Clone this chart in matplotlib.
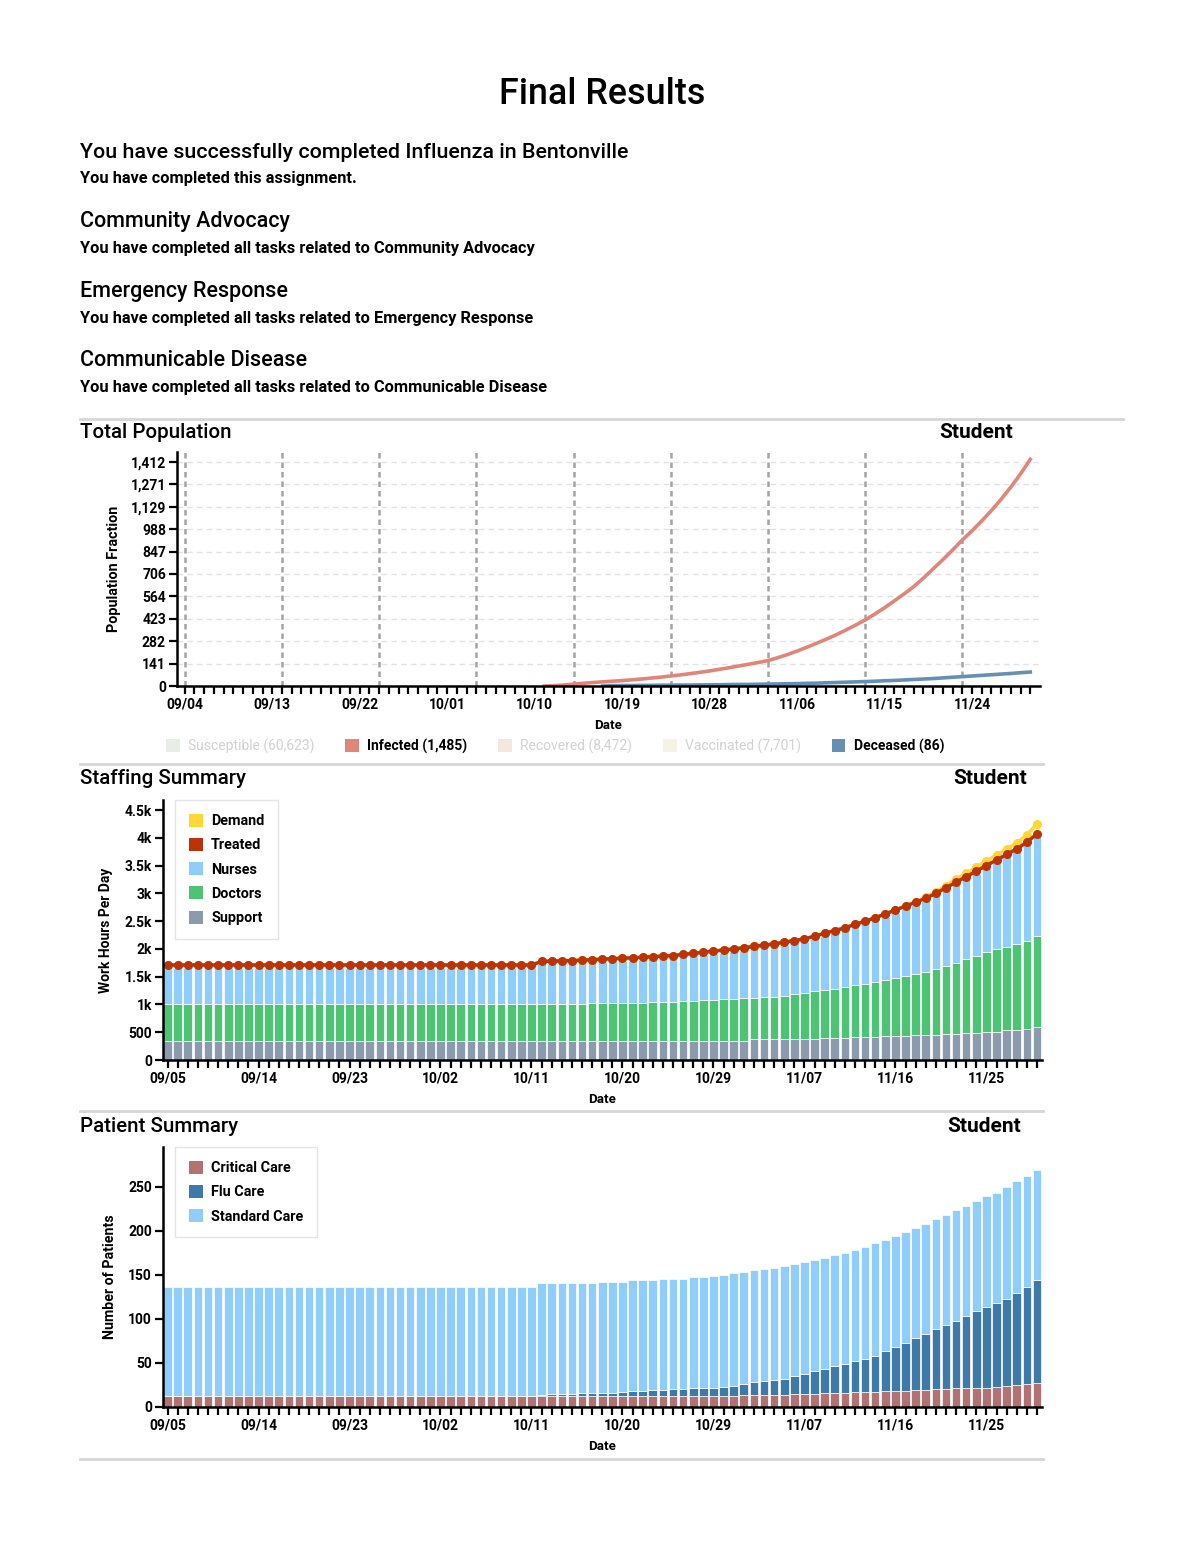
import matplotlib

matplotlib.use("Agg")

import matplotlib.pyplot as plt
import numpy as np
import pandas as pd
from matplotlib.lines import Line2D
from matplotlib.patches import Patch

plt.rcParams["font.family"] = ["Roboto", "DejaVu Sans"]

# ---------------------------------------------------------------------------
# dados
# ---------------------------------------------------------------------------

# Total Population: uma leitura por dia, de 09/04 a 11/30
pop_start = "2020-09-04"
infected = [
    0, 0, 0, 0, 0, 0, 0, 0, 0, 0,
    0, 0, 0, 0, 0, 0, 0, 0, 0, 0,
    0, 0, 0, 0, 0, 0, 0, 0, 0, 0,
    0, 0, 0, 0, 0, 0, 0, 0, 2, 6,
    12, 17, 22, 26, 30, 34, 39, 44, 50, 56,
    63, 70, 78, 86, 95, 105, 115, 126, 137, 148,
    160, 178, 198, 220, 244, 269, 295, 322, 352, 383,
    416, 453, 493, 536, 580, 626, 680, 738, 796, 857,
    920, 978, 1040, 1106, 1177, 1254, 1337, 1429,
]
deceased = [
    0, 0, 0, 0, 0, 0, 0, 0, 0, 0,
    0, 0, 0, 0, 0, 0, 0, 0, 0, 0,
    0, 0, 0, 0, 0, 0, 0, 0, 0, 0,
    0, 0, 0, 0, 0, 0, 0, 0, 0, 0,
    0, 0, 0, 0, 2, 3, 3, 4, 4, 5,
    5, 6, 6, 7, 7, 8, 9, 10, 10, 11,
    12, 13, 14, 15, 17, 18, 20, 22, 24, 26,
    28, 30, 33, 35, 38, 41, 44, 47, 51, 55,
    59, 63, 67, 71, 75, 79, 84, 88,
]
pop_yticks = [0, 141.2, 282.4, 423.6, 564.8, 706, 847.2, 988.4, 1129.6, 1270.8, 1412]
pop_ytick_labels = ["0", "141", "282", "423", "564", "706", "847", "988", "1,129", "1,271", "1,412"]
pop_legend = [
    ("Susceptible (60,623)", "#e8eee6", True),
    ("Infected (1,485)", "#df8579", False),
    ("Recovered (8,472)", "#f6e7de", True),
    ("Vaccinated (7,701)", "#f5f2e7", True),
    ("Deceased (86)", "#6690b3", False),
]

# Staffing / Patient: uma barra por dia, de 09/05 a 11/30
bar_start = "2020-09-05"
support = [
    345, 345, 345, 345, 345, 345, 345, 345, 345, 345,
    345, 345, 345, 345, 345, 345, 345, 345, 345, 345,
    345, 345, 345, 345, 345, 345, 345, 345, 345, 345,
    345, 345, 345, 345, 345, 345, 345, 345, 345, 345,
    345, 345, 345, 345, 345, 345, 345, 345, 345, 345,
    345, 345, 345, 345, 345, 345, 345, 345, 370, 370,
    370, 370, 385, 385, 385, 400, 400, 400, 420, 420,
    420, 435, 435, 435, 450, 450, 450, 475, 475, 495,
    495, 510, 510, 540, 540, 555, 590,
]
doctors = [
    655, 655, 655, 655, 655, 655, 655, 655, 655, 655,
    655, 655, 655, 655, 655, 655, 655, 655, 655, 655,
    655, 655, 655, 655, 655, 655, 655, 655, 655, 655,
    655, 655, 655, 655, 655, 655, 655, 665, 667, 670,
    670, 670, 673, 675, 675, 677, 683, 690, 695, 700,
    705, 713, 721, 730, 739, 747, 755, 765, 750, 760,
    770, 790, 800, 825, 850, 860, 885, 915, 925, 955,
    985, 1005, 1040, 1075, 1100, 1140, 1190, 1220, 1275, 1320,
    1385, 1435, 1480, 1500, 1550, 1595, 1650,
]
nurses = [
    660, 660, 660, 660, 660, 660, 660, 660, 660, 660,
    660, 660, 660, 660, 660, 660, 660, 660, 660, 660,
    660, 660, 660, 660, 660, 660, 660, 660, 660, 660,
    660, 660, 660, 660, 660, 660, 660, 715, 718, 720,
    725, 730, 737, 745, 755, 758, 762, 765, 770, 775,
    780, 792, 804, 815, 826, 838, 850, 860, 875, 885,
    900, 910, 915, 920, 945, 970, 995, 1015, 1045, 1075,
    1105, 1140, 1175, 1210, 1240, 1270, 1310, 1355, 1400, 1435,
    1470, 1505, 1560, 1610, 1660, 1720, 1780,
]
treated = [
    1710, 1710, 1710, 1710, 1710, 1710, 1710, 1710, 1710, 1710,
    1710, 1710, 1710, 1710, 1710, 1710, 1710, 1710, 1710, 1710,
    1710, 1710, 1710, 1710, 1710, 1710, 1710, 1710, 1710, 1710,
    1710, 1710, 1710, 1710, 1710, 1710, 1710, 1775, 1780, 1785,
    1790, 1795, 1805, 1815, 1825, 1830, 1840, 1850, 1860, 1870,
    1880, 1900, 1920, 1940, 1960, 1980, 2000, 2020, 2045, 2065,
    2090, 2120, 2150, 2180, 2230, 2280, 2330, 2380, 2440, 2500,
    2560, 2630, 2700, 2770, 2840, 2910, 3000, 3100, 3200, 3300,
    3400, 3500, 3600, 3700, 3800, 3920, 4070,
]
demand = [
    1710, 1710, 1710, 1710, 1710, 1710, 1710, 1710, 1710, 1710,
    1710, 1710, 1710, 1710, 1710, 1710, 1710, 1710, 1710, 1710,
    1710, 1710, 1710, 1710, 1710, 1710, 1710, 1710, 1710, 1710,
    1710, 1710, 1710, 1710, 1710, 1710, 1710, 1775, 1780, 1785,
    1790, 1795, 1805, 1815, 1825, 1830, 1840, 1850, 1860, 1870,
    1880, 1900, 1920, 1940, 1960, 1980, 2000, 2020, 2045, 2065,
    2090, 2120, 2150, 2180, 2230, 2280, 2330, 2380, 2440, 2500,
    2560, 2630, 2700, 2770, 2840, 2930, 3030, 3140, 3250, 3360,
    3470, 3580, 3690, 3800, 3910, 4050, 4250,
]
staff_yticks = [0, 500, 1000, 1500, 2000, 2500, 3000, 3500, 4000, 4500]
staff_ytick_labels = ["0", "500", "1k", "1.5k", "2k", "2.5k", "3k", "3.5k", "4k", "4.5k"]

critical_care = [
    12, 12, 12, 12, 12, 12, 12, 12, 12, 12,
    12, 12, 12, 12, 12, 12, 12, 12, 12, 12,
    12, 12, 12, 12, 12, 12, 12, 12, 12, 12,
    12, 12, 12, 12, 12, 12, 12, 12, 12, 12,
    12, 12, 12, 12, 12, 12, 12, 12, 12, 13,
    13, 13, 13, 13, 13, 13, 13, 14, 14, 14,
    14, 14, 15, 15, 15, 16, 16, 16, 17, 17,
    17, 18, 18, 18, 19, 19, 20, 20, 21, 21,
    22, 22, 23, 24, 25, 26, 27,
]
flu_care = [
    0, 0, 0, 0, 0, 0, 0, 0, 0, 0,
    0, 0, 0, 0, 0, 0, 0, 0, 0, 0,
    0, 0, 0, 0, 0, 0, 0, 0, 0, 0,
    0, 0, 0, 0, 0, 0, 0, 2, 3, 3,
    3, 4, 4, 4, 4, 5, 6, 6, 7, 6,
    7, 7, 8, 8, 9, 10, 11, 12, 14, 16,
    17, 18, 20, 23, 26, 27, 30, 33, 35, 38,
    41, 45, 50, 55, 59, 64, 68, 73, 77, 82,
    87, 92, 95, 99, 104, 110, 117,
]
standard_care = [
    124, 124, 124, 124, 124, 124, 124, 124, 124, 124,
    124, 124, 124, 124, 124, 124, 124, 124, 124, 124,
    124, 124, 124, 124, 124, 124, 124, 124, 124, 124,
    124, 124, 124, 124, 124, 124, 124, 127, 126, 126,
    126, 125, 125, 126, 126, 125, 126, 126, 125, 126,
    125, 125, 126, 126, 127, 127, 128, 127, 127, 127,
    127, 128, 127, 127, 126, 126, 126, 126, 126, 127,
    128, 127, 126, 125, 125, 125, 125, 125, 125, 125,
    125, 125, 125, 127, 127, 126, 125,
]
patient_yticks = [0, 50, 100, 150, 200, 250]

header_blocks = [
    ("You have successfully completed Influenza in Bentonville", "You have completed this assignment."),
    ("Community Advocacy", "You have completed all tasks related to Community Advocacy"),
    ("Emergency Response", "You have completed all tasks related to Emergency Response"),
    ("Communicable Disease", "You have completed all tasks related to Communicable Disease"),
]

COR_INFECTED = "#df8579"
COR_DECEASED = "#6690b3"
COR_DEMAND = "#fdd835"
COR_TREATED = "#bb3409"
COR_NURSES = "#90cdfb"
COR_DOCTORS = "#4fc375"
COR_SUPPORT = "#8c9aad"
COR_CRITICAL = "#b07272"
COR_FLU = "#3f79a7"
COR_STANDARD = "#90cdfb"

W, H = 1200, 1553


def _fx(px):
    return px / W


def _fy(py):
    return 1 - py / H


def _sem_zeros_iniciais(valores):
    # a série fica escondida sob o eixo enquanto é zero; mantém só o último zero antes de subir
    arr = np.array(valores, dtype=float)
    primeiro = int(np.argmax(arr > 0))
    arr[: max(primeiro - 1, 0)] = np.nan
    return arr


def _eixo_base(ax):
    # só esquerda e baixo, ticks grossos pra fora como no original
    for lado in ("top", "right"):
        ax.spines[lado].set_visible(False)
    for lado in ("left", "bottom"):
        ax.spines[lado].set_linewidth(1.8)
        ax.spines[lado].set_zorder(5)
    ax.tick_params(axis="both", which="both", length=6, width=1.6, direction="out",
                   labelsize=10, pad=2)
    for lbl in ax.get_xticklabels() + ax.get_yticklabels():
        lbl.set_fontweight("bold")


def _eixo_datas(ax, n_dias, inicio, passo):
    datas = pd.date_range(inicio, periods=n_dias)
    ax.set_xticks(range(n_dias), minor=True)
    ax.set_xticks(range(0, n_dias, passo))
    ax.set_xticklabels([d.strftime("%m/%d") for d in datas[::passo]])


def _titulo_secao(titulo, y, x_student):
    fig.text(_fx(80), _fy(y), titulo, fontsize=14.8, fontweight="medium", ha="left", va="center")
    fig.text(_fx(x_student), _fy(y), "Student", fontsize=15, fontweight="bold",
             ha="center", va="center")


def _linha_separadora(y, x1):
    fig.add_artist(Line2D([_fx(80), _fx(x1)], [_fy(y), _fy(y)], transform=fig.transFigure,
                          color="#d6d6d6", lw=2))


def _legenda_caixa(ax, cores, rotulos):
    ax.legend(
        [Patch(facecolor=c) for c in cores], rotulos,
        loc="upper left", bbox_to_anchor=(0.0137, 1.0), borderaxespad=0,
        prop={"weight": "bold", "size": 10.4}, handlelength=1.0, handleheight=1.0,
        handletextpad=0.55, labelspacing=0.68, borderpad=0.95,
        fancybox=False, edgecolor="#e4e4e4", framealpha=1,
    )


fig = plt.figure(figsize=(12, 15.53), dpi=100)

# cabeçalho
fig.text(0.5015, _fy(95), "Final Results", fontsize=25.8, ha="center", va="center",
         fontweight="medium")
for i, (titulo, sub) in enumerate(header_blocks):
    y0 = 152 + 69.5 * i
    fig.text(_fx(80), _fy(y0), titulo, fontsize=15.4 if i == 0 else 15.5, ha="left",
             va="center", fontweight="medium")
    fig.text(_fx(80), _fy(y0 + 27), sub, fontsize=11.8, ha="left", va="center",
             fontweight="bold")

_linha_separadora(419, 1123)
_linha_separadora(764, 1043)
_linha_separadora(1111, 1043)
_linha_separadora(1459, 1043)

# ---------------------------------------------------------------------------
# Total Population
# ---------------------------------------------------------------------------
ax = fig.add_axes([_fx(177), _fy(686), _fx(1040) - _fx(177), (686 - 452) / H])
dias_pop = list(range(len(infected)))
for d in range(0, len(infected), 10):
    ax.axvline(d, color="#a4a4a4", lw=1.8, ls=(0, (2.2, 1.6)), zorder=1)
ax.set_yticks(pop_yticks)
ax.set_yticklabels(pop_ytick_labels)
ax.yaxis.grid(True, color="#e2e2e2", lw=1, ls=(0, (4, 3)), zorder=0)
ax.plot(dias_pop, _sem_zeros_iniciais(infected), color=COR_INFECTED, lw=2.6, zorder=3)
ax.plot(dias_pop, _sem_zeros_iniciais(deceased), color=COR_DECEASED, lw=2.6, zorder=3)
ax.set_xlim(-0.8, 88)
ax.set_ylim(0, 1475)
_eixo_datas(ax, len(infected), pop_start, 9)
_eixo_base(ax)
ax.set_xlabel("Date", fontsize=9.5, fontweight="bold", labelpad=6)
ax.set_ylabel("Population Fraction", fontsize=10.4, fontweight="bold", labelpad=7)
_titulo_secao("Total Population", 432, 976)

handles = [Patch(facecolor=c, edgecolor="none") for _, c, _ in pop_legend]
leg = fig.legend(handles, [t for t, _, _ in pop_legend], ncol=5, loc="center",
                 bbox_to_anchor=(_fx(555), _fy(746)), frameon=False, fontsize=10,
                 handlelength=1.0, handleheight=1.0, handletextpad=0.6, columnspacing=2.2)
for txt, (_, _, apagado) in zip(leg.get_texts(), pop_legend):
    if apagado:
        txt.set_color("#d2d2d2")
    else:
        txt.set_fontweight("bold")

# ---------------------------------------------------------------------------
# Staffing Summary
# ---------------------------------------------------------------------------
ax = fig.add_axes([_fx(163), _fy(1060), _fx(1042) - _fx(163), (1060 - 800) / H])
dias = list(range(len(support)))
base_doc = [s for s in support]
base_nur = [s + d for s, d in zip(support, doctors)]
ax.bar(dias, support, width=0.85, color=COR_SUPPORT, edgecolor="white", linewidth=0.5, zorder=2)
ax.bar(dias, doctors, bottom=base_doc, width=0.85, color=COR_DOCTORS, edgecolor="white",
       linewidth=0.5, zorder=2)
ax.bar(dias, nurses, bottom=base_nur, width=0.85, color=COR_NURSES, edgecolor="white",
       linewidth=0.5, zorder=2)
ax.plot(dias, demand, color=COR_DEMAND, lw=2.5, marker="o", ms=5.5, zorder=3)
ax.plot(dias, treated, color=COR_TREATED, lw=2.5, marker="o", ms=5.5, zorder=4)
ax.set_xlim(-0.45, 86.5)
ax.set_ylim(0, 4680)
ax.set_yticks(staff_yticks)
ax.set_yticklabels(staff_ytick_labels)
_eixo_datas(ax, len(support), bar_start, 9)
_eixo_base(ax)
ax.set_xlabel("Date", fontsize=9.5, fontweight="bold", labelpad=6)
ax.set_ylabel("Work Hours Per Day", fontsize=10, fontweight="bold", labelpad=8)
_titulo_secao("Staffing Summary", 779, 990)
_legenda_caixa(ax, (COR_DEMAND, COR_TREATED, COR_NURSES, COR_DOCTORS, COR_SUPPORT),
               ["Demand", "Treated", "Nurses", "Doctors", "Support"])

# ---------------------------------------------------------------------------
# Patient Summary
# ---------------------------------------------------------------------------
ax = fig.add_axes([_fx(163), _fy(1407), _fx(1042) - _fx(163), (1407 - 1147) / H])
base_flu = [c for c in critical_care]
base_std = [c + f for c, f in zip(critical_care, flu_care)]
ax.bar(dias, critical_care, width=0.85, color=COR_CRITICAL, edgecolor="white", linewidth=0.5,
       zorder=2)
ax.bar(dias, flu_care, bottom=base_flu, width=0.85, color=COR_FLU, edgecolor="white",
       linewidth=0.5, zorder=2)
ax.bar(dias, standard_care, bottom=base_std, width=0.85, color=COR_STANDARD, edgecolor="white",
       linewidth=0.5, zorder=2)
ax.set_xlim(-0.45, 86.5)
ax.set_ylim(0, 295)
ax.set_yticks(patient_yticks)
_eixo_datas(ax, len(support), bar_start, 9)
_eixo_base(ax)
ax.set_xlabel("Date", fontsize=9.5, fontweight="bold", labelpad=6)
ax.set_ylabel("Number of Patients", fontsize=10.2, fontweight="bold", labelpad=8)
_titulo_secao("Patient Summary", 1126, 984)
_legenda_caixa(ax, (COR_CRITICAL, COR_FLU, COR_STANDARD),
               ["Critical Care", "Flu Care", "Standard Care"])

fig.savefig("out.png", dpi=100)
